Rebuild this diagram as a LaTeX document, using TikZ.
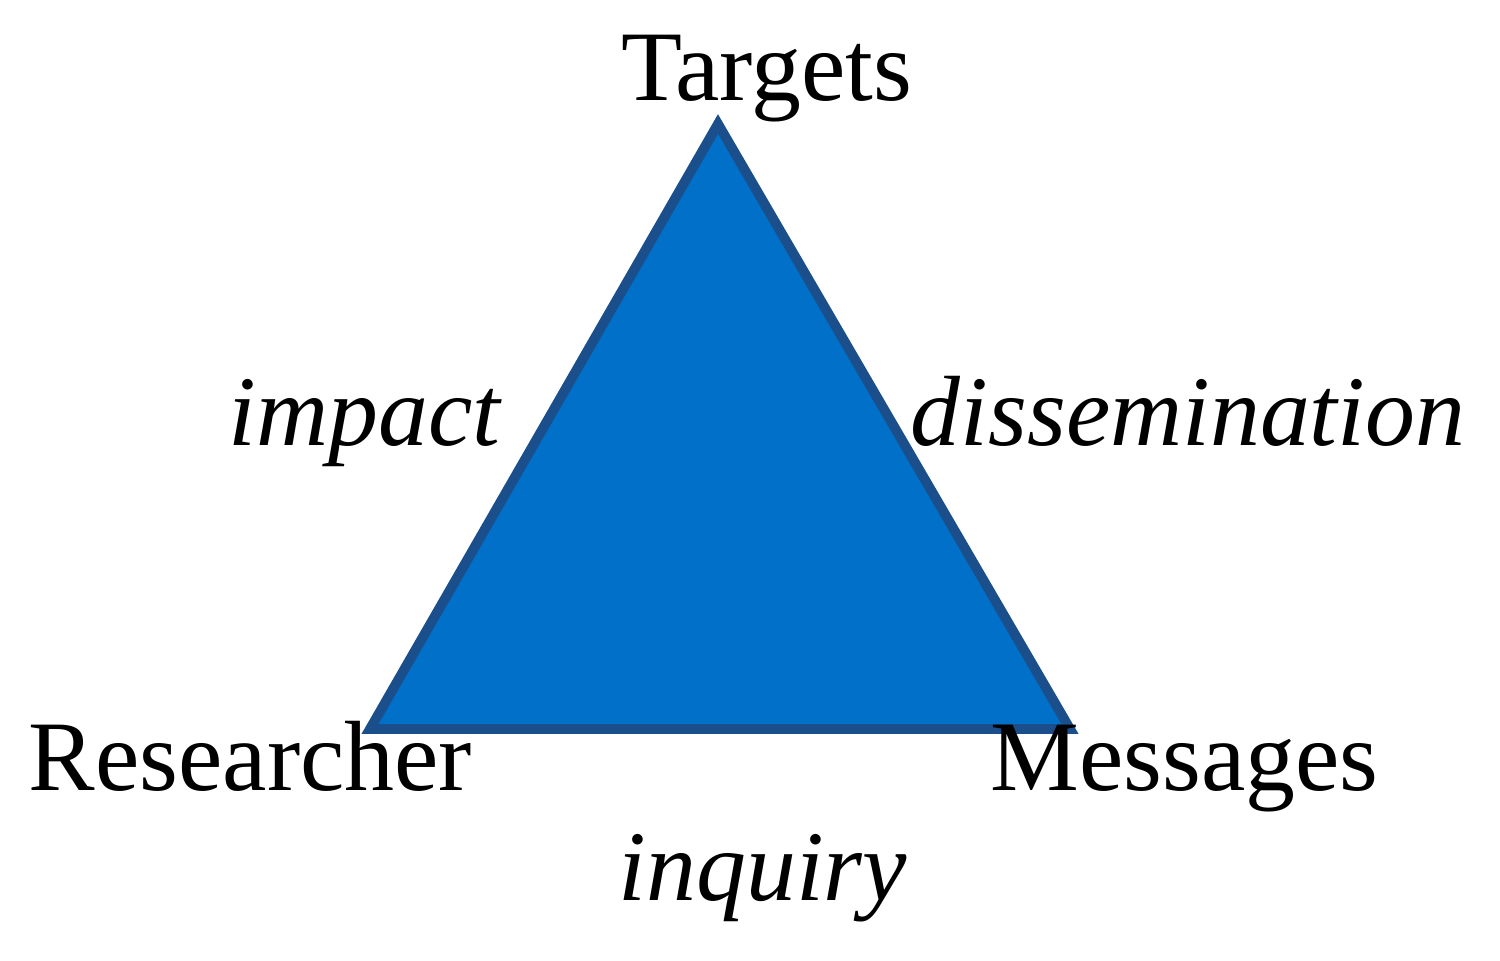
\documentclass[tikz,border=0pt]{standalone}
\usepackage{fontspec}
\setmainfont{Liberation Serif}
\usepackage{xcolor}
\usepackage{tikz}
\usetikzlibrary{positioning}

\definecolor{triblue}{HTML}{0070C8}
\definecolor{triedge}{HTML}{1A4F8C}

\begin{document}
\begin{tikzpicture}[
    vertex/.style={inner sep=0pt, font=\fontsize{28.4}{34}\selectfont},
    side/.style={inner sep=0pt, font=\fontsize{28.4}{34}\selectfont\itshape}
  ]
    \useasboundingbox (0,0) rectangle (15,9.6);

    % Corners of the triangle
    \coordinate (top) at (7.18,8.36);
    \coordinate (left) at (3.70,2.31);
    \coordinate (right) at (10.70,2.31);
    \draw[triedge, line width=2.8pt, line join=miter, fill=triblue] (top) -- (left) -- (right) -- cycle;

    % Vertex labels
    \node[vertex, anchor=base] (targets) at (7.665,8.60) {Targets};
    \node[vertex, anchor=base west] (researcher) at (0.28,1.70) {Researcher};
    \node[vertex, anchor=base west] (messages) at (9.90,1.70) {Messages};

    % Side labels
    \node[side, anchor=base west] (impact) at (2.28,5.15) {impact};
    \node[side, anchor=base west] (dissemination) at (9.10,5.15) {dissemination};
    \node[side, anchor=base west] (inquiry) at (6.18,0.60) {inquiry};

\end{tikzpicture}
\end{document}
